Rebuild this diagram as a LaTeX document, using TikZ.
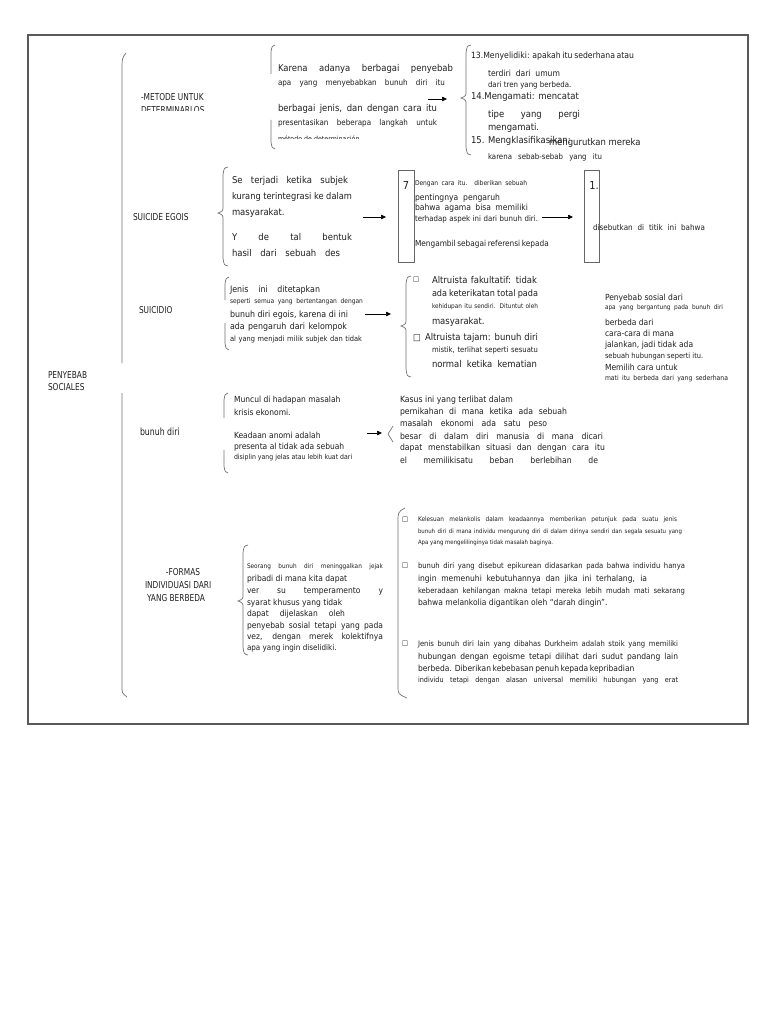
\documentclass[tikz,border=0pt]{standalone}
\usepackage{fontspec}
\setmainfont{DejaVu Sans}[FakeStretch=0.9]
\newfontfamily\lblf{DejaVu Sans}[FakeStretch=0.78]
\usetikzlibrary{arrows.meta}
\newcommand\fsz[1]{\fontsize{#1}{#1}\selectfont}
\newcommand\txl[4]{\node[t,font=\fsz{#3}] (#1) at (#2) {#4};}
\newcommand\txj[5]{\node[t,font=\fsz{#3}] (#1) at (#2) {\makebox[#4pt][s]{#5}};}
% brace: x, ytop, ytip, ybottom
\newcommand\brcfull[4]{\draw[brc] (#1+5,#2) .. controls (#1+1,#2+1) .. (#1,#2+8) -- (#1,#3-7) .. controls (#1,#3-2) .. (#1-5,#3) .. controls (#1,#3+2) .. (#1,#3+7) -- (#1,#4-8) .. controls (#1+1,#4-1) .. (#1+5,#4);}
% half segments: x, y1, y2 (top), y3, y4 (bottom)
\newcommand\brcsplit[5]{\draw[brc] (#1+4,#2) .. controls (#1+1,#2+1) .. (#1,#2+7) -- (#1,#3); \draw[brc] (#1,#4) -- (#1,#5-7) .. controls (#1+1,#5-1) .. (#1+4,#5);}
\tikzset{
  t/.style={anchor=west, inner sep=0pt, outer sep=0pt, text=black!88},
  lb/.style={anchor=west, inner sep=0pt, outer sep=0pt, text=black!88, font=\lblf\fsz{9.5}},
  brc/.style={draw=black!55, line width=0.7pt},
  arr/.style={-{Triangle[length=5pt,width=4.5pt]}, line width=0.6pt, black},
  bx/.style={draw=black!60, line width=0.8pt},
  frm/.style={draw=black!65, line width=2.6pt},
}
\begin{document}
\begin{tikzpicture}[x=1pt,y=-1pt]
\useasboundingbox[fill=white] (0,0) rectangle (768,1024);
\draw[frm] (28,35) rectangle (748,724);

% big left bracket
\draw[brc] (126,53) .. controls (122,58) .. (122,72) -- (122,363);
\draw[brc] (122,393) -- (122,686) .. controls (122,693) .. (127,697);

% left labels
\node[lb] (pen1) at (48,375) {PENYEBAB};
\node[lb] (pen2) at (48,387) {SOCIALES};
\node[lb] (met1) at (141,97) {-METODE UNTUK};
\begin{scope}
\clip (130,100) rectangle (260,110.5);
\node[lb,anchor=base west] (met2) at (141,114) {DETERMINARLOS};
\end{scope}
\node[lb] (ego) at (133,217) {SUICIDE EGOIS};
\node[lb] (sui) at (139,310) {SUICIDIO};
\node[lb,font=\lblf\fsz{10}] (bun) at (140,432) {bunuh diri};
\node[lb,anchor=center] (for1) at (183,572) {-FORMAS};
\node[lb] (for2) at (145,585) {INDIVIDUASI DARI};
\node[lb] (for3) at (147,598) {YANG BERBEDA};

% ---- METODE block
\brcsplit{271}{45}{74}{120}{149}
\txj{k1}{278,69}{9.4}{175}{Karena adanya berbagai penyebab}
\txj{k2}{278,83}{8}{167}{apa yang menyebabkan bunuh diri itu}
\txj{k3}{278,109}{9.4}{159}{berbagai jenis, dan dengan cara itu}
\txj{k4}{278,123}{8}{159}{presentasikan beberapa langkah untuk}
\begin{scope}
\clip (270,130) rectangle (460,138.8);
\node[t,anchor=base west,font=\fsz{7}] (k5) at (278,141.5) {método de determinación};
\end{scope}
\coordinate (a1s) at (428,99);
\coordinate (a1e) at (447,99);
\draw[arr] (a1s) -- (a1e);

% ---- 13-15 block
\brcfull{466}{45}{98}{155}
\txj{n1}{471,56}{8.6}{163}{13.Menyelidiki: apakah itu sederhana atau}
\txj{n2}{488,73}{8.5}{72}{terdiri dari umum}
\txl{n3}{488,85}{7.8}{dari tren yang berbeda.}
\txl{n4}{471,97}{9.4}{14.Mengamati: mencatat}
\txj{n5}{488,115}{9.4}{92}{tipe yang pergi}
\txl{n6}{488,128}{9.4}{mengamati.}
\txl{n7}{471,141}{9.4}{15. Mengklasifikasikan:}
\txl{n8}{549,143}{9.4}{mengurutkan mereka}
\txj{n9}{488,157}{7.8}{114}{karena sebab-sebab yang itu}

% ---- SUICIDE EGOIS block
\brcfull{223}{167}{213}{266}
\txj{e1}{232,181}{9.4}{116}{Se terjadi ketika subjek}
\txl{e2}{232,197}{9.2}{kurang terintegrasi ke dalam}
\txl{e3}{232,213}{9.4}{masyarakat.}
\txj{e4}{232,237}{9.4}{120}{Y de tal bentuk}
\txj{e5}{232,253}{9.4}{108}{hasil dari sebuah des}
\coordinate (a2s) at (363,217);
\coordinate (a2e) at (386,217);
\draw[arr] (a2s) -- (a2e);

\node[bx,minimum width=16pt,minimum height=92pt,inner sep=0pt,anchor=north west] (box1) at (398,170) {};
\node[t,anchor=center,font=\fsz{11}] (seven) at (406,185) {7};
\txj{b1}{415,184}{6.6}{112}{Dengan cara itu. diberikan sebuah}
\txj{b2}{415,198}{8.5}{85}{pentingnya pengaruh}
\txj{b3}{415,208}{8.5}{113}{bahwa agama bisa memiliki}
\txj{b4}{415,219}{7.8}{123}{terhadap aspek ini dari bunuh diri.}
\txj{b5}{415,244}{8.2}{132}{Mengambil sebagai referensi kepada}
\coordinate (a3s) at (542,217);
\coordinate (a3e) at (573,217);
\draw[arr] (a3s) -- (a3e);
\node[bx,minimum width=15pt,minimum height=92pt,inner sep=0pt,anchor=north west] (box2) at (584,170) {};
\node[t,anchor=center,font=\fsz{11}] (one) at (594,185) {1.};
\txj{dis}{593,228}{8}{112}{disebutkan di titik ini bahwa}

% ---- SUICIDIO block
\brcsplit{225}{277}{300}{323}{350}
\txj{s1}{230,290}{8.8}{90}{Jenis ini ditetapkan}
\txj{s2}{230,302}{6.6}{133}{seperti semua yang bertentangan dengan}
\txj{s3}{230,315}{8.8}{118}{bunuh diri egois, karena di ini}
\txj{s4}{230,327}{8.8}{117}{ada pengaruh dari kelompok}
\txj{s5}{230,339}{7.4}{132}{al yang menjadi milik subjek dan tidak}
\coordinate (a4s) at (365,314);
\coordinate (a4e) at (391,314);
\draw[arr] (a4s) -- (a4e);

\brcfull{406}{276}{326}{377}
\node[t,anchor=center,font=\fsz{7}] (u1) at (416,280) {□};
\txj{al1}{432,280}{9.4}{105}{Altruista fakultatif: tidak}
\txj{al2}{432,294}{9}{106}{ada keterikatan total pada}
\txj{al3}{432,307}{6.4}{106}{kehidupan itu sendiri. Dituntut oleh}
\txl{al4}{432,322}{9.4}{masyarakat.}
\node[t,anchor=center,font=\fsz{9}] (u2) at (417,338) {□};
\txj{al5}{425,338}{9.4}{113}{Altruista tajam: bunuh diri}
\txj{al6}{432,350}{7.6}{106}{mistik, terlihat seperti sesuatu}
\txj{al7}{432,364}{9.4}{105}{normal ketika kematian}

\txl{r1}{605,298}{8.4}{Penyebab sosial dari}
\txj{r2}{605,308}{6.4}{118}{apa yang bergantung pada bunuh diri}
\txl{r3}{605,322}{8.4}{berbeda dari}
\txl{r4}{605,333}{8.4}{cara-cara di mana}
\txl{r5}{605,345}{8.4}{jalankan, jadi tidak ada}
\txl{r6}{605,356}{7.4}{sebuah hubungan seperti itu.}
\txl{r7}{605,367}{8.4}{Memilih cara untuk}
\txj{r8}{605,379}{6.8}{123}{mati itu berbeda dari yang sederhana}

% ---- bunuh diri block
\brcsplit{224}{393}{418}{450}{473}
\txl{d1}{234,400}{8.4}{Muncul di hadapan masalah}
\txl{d2}{234,412}{8.4}{krisis ekonomi.}
\txl{d3}{234,435}{8.4}{Keadaan anomi adalah}
\txl{d4}{234,447}{8.4}{presenta al tidak ada sebuah}
\txl{d5}{234,458}{6.9}{disiplin yang jelas atau lebih kuat dari}
\coordinate (a5s) at (367,433);
\coordinate (a5e) at (382,433);
\draw[arr] (a5s) -- (a5e);
\draw[brc] (393,426) -- (388,434) -- (393,442);
\txj{c1}{400,400}{8.6}{113}{Kasus ini yang terlibat dalam}
\txj{c2}{400,412}{8.6}{167}{pernikahan di mana ketika ada sebuah}
\txj{c3}{400,424}{8.6}{147}{masalah ekonomi ada satu peso}
\txj{c4}{400,436}{8.6}{203}{besar di dalam diri manusia di mana dicari}
\txj{c5}{400,448}{8.6}{205}{dapat menstabilkan situasi dan dengan cara itu}
\txj{c6}{400,460}{8.6}{198}{el memilikisatu beban berlebihan de}

% ---- FORMAS block
\brcfull{243}{545}{601}{655}
\txj{g1}{247,567}{6.4}{136}{Seorang bunuh diri meninggalkan jejak}
\txl{g2}{247,579}{8.4}{pribadi di mana kita dapat}
\txj{g3}{247,591}{8.4}{136}{ver su temperamento y}
\txl{g4}{247,603}{8.4}{syarat khusus yang tidak}
\txj{g5}{247,614}{8.4}{98}{dapat dijelaskan oleh}
\txj{g6}{247,626}{8.4}{136}{penyebab sosial tetapi yang pada}
\txj{g7}{247,637}{8.4}{136}{vez, dengan merek kolektifnya}
\txl{g8}{247,648}{8}{apa yang ingin diselidiki.}

% ---- last block
\draw[brc] (405,508) .. controls (398,512) .. (398,522) -- (398,686) .. controls (398,694) .. (407,698);
\node[t,anchor=center,font=\fsz{7}] (v1) at (405,520) {□};
\node[t,anchor=center,font=\fsz{7}] (v2) at (405,566) {□};
\node[t,anchor=center,font=\fsz{7}] (v3) at (405,644) {□};
\txj{p1}{418,520}{6.4}{259}{Kelesuan melankolis dalam keadaannya memberikan petunjuk pada suatu jenis}
\txj{p2}{418,532}{6}{264}{bunuh diri di mana individu mengurung diri di dalam dirinya sendiri dan segala sesuatu yang}
\txl{p3}{418,543}{6}{Apa yang mengelilinginya tidak masalah baginya.}
\txj{q1}{418,566}{7.6}{267}{bunuh diri yang disebut epikurean didasarkan pada bahwa individu hanya}
\txj{q2}{418,579}{8.4}{229}{ingin memenuhi kebutuhannya dan jika ini terhalang, ia}
\txj{q3}{418,591}{7.6}{267}{keberadaan kehilangan makna tetapi mereka lebih mudah mati sekarang}
\txl{q4}{418,603}{8.4}{bahwa melankolia digantikan oleh “darah dingin”.}
\txj{z1}{418,644}{7.6}{260}{Jenis bunuh diri lain yang dibahas Durkheim adalah stoik yang memiliki}
\txj{z2}{418,657}{8.4}{260}{hubungan dengan egoisme tetapi dilihat dari sudut pandang lain}
\txj{z3}{418,669}{8.4}{210}{berbeda. Diberikan kebebasan penuh kepada kepribadian}
\txj{z4}{418,681}{7.2}{260}{individu tetapi dengan alasan universal memiliki hubungan yang erat}
\end{tikzpicture}
\end{document}
